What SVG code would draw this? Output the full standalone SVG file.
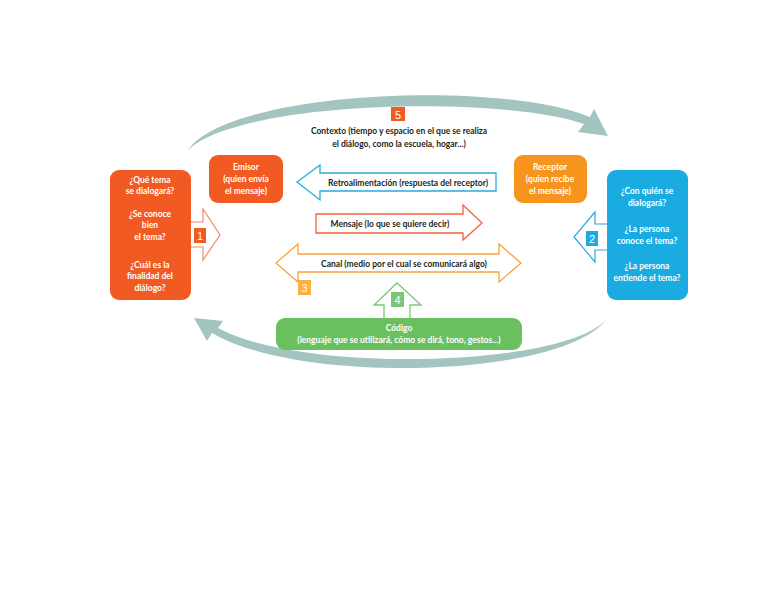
<svg xmlns="http://www.w3.org/2000/svg" width="768" height="594" viewBox="0 0 768 594">
<style>
text{font-family:Lato,"Open Sans",sans-serif;font-weight:bold;font-size:8.5px;text-anchor:middle}
.w{fill:#fff}.d{fill:#231f20}
.num{font-family:"Liberation Sans",sans-serif;font-weight:normal;font-size:11px;fill:#fff}
.curve{fill:#a3c4bf}
</style>
<rect width="768" height="594" fill="#fff"/>
<g id="connectors">
<path class="curve" d="M188,150 C230,90 500,80 590,117 L594,109 L608,136 L578,132 L584,124 C500,95 240,100 188,150 Z"/>
<path class="curve" d="M606,320 C560,378 300,385 212,333 L207,341 L194,318 L223,321 L218,328 C300,373 560,368 606,320 Z"/>
<path d="M191,222 L203,222 L203,209 L220,235 L203,260 L203,247 L191,247" fill="#fff" stroke="#f58a6a" stroke-width="1.2"/>
<path d="M607,224 L595,224 L595,212 L574,237 L595,262 L595,250 L607,250" fill="#fff" stroke="#29abe2" stroke-width="1.2"/>
<path id="retro" d="M496,173 L320,173 L320,165 L297,182 L320,200 L320,191 L496,191 Z" fill="#fff" stroke="#29abe2" stroke-width="1.3"/>
<path id="mensaje" d="M316,214 L463,214 L463,205 L482,223 L463,240 L463,233 L316,233 Z" fill="#fff" stroke="#f0643c" stroke-width="1.3"/>
<path id="canal" d="M298,254 L499,254 L499,244 L521,263 L499,282 L499,272 L298,272 L298,282 L276,263 L298,244 Z" fill="#fff" stroke="#f9a23c" stroke-width="1.3"/>
<path id="codigoArrow" d="M384,318 L384,305 L374,305 L397,283 L421,305 L410,305 L410,318" fill="#fff" stroke="#7cc576" stroke-width="1.3"/>
</g>
<g id="n5"><rect x="391" y="107" width="14" height="14" fill="#f15a22"/><text class="num" x="398" y="118.5">5</text></g>
<g id="contexto"><text class="d" x="399" y="134">Contexto (tiempo y espacio en el que se realiza</text><text class="d" x="399" y="147">el diálogo, como la escuela, hogar...)</text></g>
<g id="preguntasEmisor"><rect x="110" y="170" width="81" height="130" rx="9" fill="#f15a22"/>
<text class="w" x="150" y="183">¿Qué tema</text><text class="w" x="150" y="194">se dialogará?</text>
<text class="w" x="150" y="217">¿Se conoce</text><text class="w" x="150" y="228">bien</text><text class="w" x="150" y="240">el tema?</text>
<text class="w" x="150" y="268">¿Cuál es la</text><text class="w" x="150" y="279">finalidad del</text><text class="w" x="150" y="291">diálogo?</text></g>
<g id="n1"><rect x="194" y="228" width="12" height="15" fill="#f15a22"/><text class="num" x="200" y="240">1</text></g>
<g id="emisor"><rect x="209" y="155" width="74" height="48" rx="9" fill="#f15a22"/>
<text class="w" x="246" y="170">Emisor</text><text class="w" x="246" y="182">(quien envía</text><text class="w" x="246" y="194">el mensaje)</text></g>
<g id="receptor"><rect x="514" y="155" width="73" height="48" rx="9" fill="#f7941d"/>
<text class="w" x="550" y="170">Receptor</text><text class="w" x="550" y="182">(quien recibe</text><text class="w" x="550" y="194">el mensaje)</text></g>
<g id="preguntasReceptor"><rect x="607" y="170" width="81" height="130" rx="9" fill="#1aabe0"/>
<text class="w" x="647" y="194">¿Con quién se</text><text class="w" x="647" y="206">dialogará?</text>
<text class="w" x="647" y="232">¿La persona</text><text class="w" x="647" y="244">conoce el tema?</text>
<text class="w" x="647" y="269">¿La persona</text><text class="w" x="647" y="281">entiende el tema?</text></g>
<g id="n2"><rect x="586" y="231" width="12" height="15" fill="#1aabe0"/><text class="num" x="592" y="243">2</text></g>
<g id="lretro"><text class="d" x="408" y="186">Retroalimentación (respuesta del receptor)</text></g>
<g id="lmensaje"><text class="d" x="390" y="227">Mensaje (lo que se quiere decir)</text></g>
<g id="lcanal"><text class="d" x="404" y="267">Canal (medio por el cual se comunicará algo)</text></g>
<g id="n3"><rect x="298" y="280" width="13" height="15" fill="#fbb040"/><text class="num" x="304.5" y="292">3</text></g>
<g id="n4"><rect x="391" y="292" width="13" height="15" fill="#7cc576"/><text class="num" x="397.5" y="304">4</text></g>
<g id="codigo"><rect x="276" y="318" width="246" height="32" rx="9" fill="#6abf5f"/>
<text class="w" x="399" y="331">Código</text><text class="w" x="399" y="343">(lenguaje que se utilizará, cómo se dirá, tono, gestos...)</text></g>
</svg>
